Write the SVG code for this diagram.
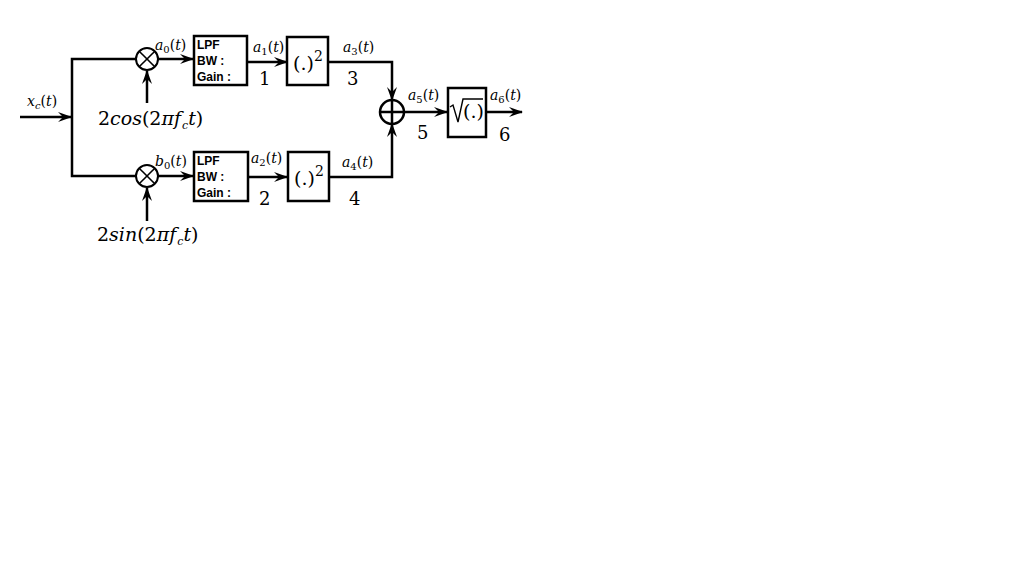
<svg xmlns="http://www.w3.org/2000/svg" width="1024" height="577" viewBox="0 0 1024 577">
<style>
.ln{fill:none;stroke:#000;stroke-width:2.5}
.bx{fill:#fff;stroke:#000;stroke-width:2.5}
.th{fill:none;stroke:#000;stroke-width:1.6}
.m{font-family:"DejaVu Serif","Liberation Serif",serif;font-style:italic;font-size:14px;fill:#000}
.big{font-family:"DejaVu Serif","Liberation Serif",serif;font-size:19px;fill:#000}
.n{font-family:"DejaVu Serif","Liberation Serif",serif;font-size:18px;fill:#000}
.lp{font-family:"Liberation Sans",Arial,sans-serif;font-weight:bold;font-size:12px;fill:#000}
.up{font-style:normal}
</style>
<defs>
<marker id="ar" viewBox="0 0 14 10" refX="13" refY="5" markerWidth="14" markerHeight="10" markerUnits="userSpaceOnUse" orient="auto">
<path d="M0,0 L14,5 L0,10 L5,5 z" fill="#000"/>
</marker>
</defs>
<rect width="1024" height="577" fill="#fff"/>
<g id="connectors">
<line class="ln" x1="20" y1="117" x2="71" y2="117" marker-end="url(#ar)"/>
<polyline class="ln" points="136,59 72,59 72,176 136,176"/>
<line class="ln" x1="158" y1="59" x2="193" y2="59" marker-end="url(#ar)"/>
<line class="ln" x1="158" y1="176" x2="193" y2="176" marker-end="url(#ar)"/>
<line class="ln" x1="147" y1="103" x2="147" y2="71" marker-end="url(#ar)"/>
<line class="ln" x1="147" y1="221" x2="147" y2="188" marker-end="url(#ar)"/>
<line class="ln" x1="247" y1="62" x2="287" y2="62" marker-end="url(#ar)"/>
<line class="ln" x1="248" y1="177" x2="287" y2="177" marker-end="url(#ar)"/>
<polyline class="ln" points="328,62 392,62 392,100" marker-end="url(#ar)"/>
<polyline class="ln" points="329,177 392,177 392,124" marker-end="url(#ar)"/>
<line class="ln" x1="404" y1="112" x2="447" y2="112" marker-end="url(#ar)"/>
<line class="ln" x1="486" y1="112" x2="522" y2="112" marker-end="url(#ar)"/>
</g>
<g id="mult1">
<circle cx="147" cy="59" r="11" fill="#fff" stroke="#000" stroke-width="2"/>
<line class="th" x1="139.2" y1="51.2" x2="154.8" y2="66.8"/>
<line class="th" x1="154.8" y1="51.2" x2="139.2" y2="66.8"/>
</g>
<g id="mult2">
<circle cx="147" cy="176" r="11" fill="#fff" stroke="#000" stroke-width="2"/>
<line class="th" x1="139.2" y1="168.2" x2="154.8" y2="183.8"/>
<line class="th" x1="154.8" y1="168.2" x2="139.2" y2="183.8"/>
</g>
<g id="lpf1">
<rect class="bx" x="194" y="36" width="53" height="49"/>
<text class="lp" x="197" y="49">LPF</text>
<text class="lp" x="197" y="65">BW :</text>
<text class="lp" x="197" y="81">Gain :</text>
</g>
<g id="lpf2">
<rect class="bx" x="194" y="152" width="54" height="49"/>
<text class="lp" x="197" y="165">LPF</text>
<text class="lp" x="197" y="181">BW :</text>
<text class="lp" x="197" y="197">Gain :</text>
</g>
<g id="sq1">
<rect class="bx" x="287" y="37" width="41" height="48"/>
<text class="big" x="293" y="70" font-size="20">(.)<tspan font-size="14" dy="-9">2</tspan></text>
</g>
<g id="sq2">
<rect class="bx" x="288" y="152" width="41" height="49"/>
<text class="big" x="294" y="185" font-size="20">(.)<tspan font-size="14" dy="-9">2</tspan></text>
</g>
<g id="adder">
<circle class="bx" cx="392" cy="112" r="12"/>
<line class="ln" x1="380" y1="112" x2="404" y2="112"/>
<line class="ln" x1="392" y1="100" x2="392" y2="124"/>
</g>
<g id="sqrt">
<rect class="bx" x="448" y="88" width="38" height="49"/>
<polyline fill="none" stroke="#000" stroke-width="1.4" points="450,107 453,105 458,122 463,99 483,99"/>
<text class="big" x="463" y="118" font-size="15">(.)</text>
</g>
<g id="labels">
<text class="m" x="27" y="106">x<tspan font-size="10" dy="3">c</tspan><tspan class="up" dy="-3">(</tspan>t<tspan class="up">)</tspan></text>
<text class="m" x="155" y="50">a<tspan class="up" font-size="10" dy="3">0</tspan><tspan class="up" dy="-3">(</tspan>t<tspan class="up">)</tspan></text>
<text class="m" x="155" y="166">b<tspan class="up" font-size="10" dy="3">0</tspan><tspan class="up" dy="-3">(</tspan>t<tspan class="up">)</tspan></text>
<text class="m" x="253" y="52">a<tspan class="up" font-size="10" dy="3">1</tspan><tspan class="up" dy="-3">(</tspan>t<tspan class="up">)</tspan></text>
<text class="m" x="251" y="163">a<tspan class="up" font-size="10" dy="3">2</tspan><tspan class="up" dy="-3">(</tspan>t<tspan class="up">)</tspan></text>
<text class="m" x="343" y="52">a<tspan class="up" font-size="10" dy="3">3</tspan><tspan class="up" dy="-3">(</tspan>t<tspan class="up">)</tspan></text>
<text class="m" x="342" y="167">a<tspan class="up" font-size="10" dy="3">4</tspan><tspan class="up" dy="-3">(</tspan>t<tspan class="up">)</tspan></text>
<text class="m" x="408" y="100">a<tspan class="up" font-size="10" dy="3">5</tspan><tspan class="up" dy="-3">(</tspan>t<tspan class="up">)</tspan></text>
<text class="m" x="490" y="100">a<tspan class="up" font-size="10" dy="3">6</tspan><tspan class="up" dy="-3">(</tspan>t<tspan class="up">)</tspan></text>
<text class="n" x="259" y="85">1</text>
<text class="n" x="259" y="205">2</text>
<text class="n" x="347" y="85">3</text>
<text class="n" x="349" y="205">4</text>
<text class="n" x="417" y="139">5</text>
<text class="n" x="499" y="141">6</text>
<text class="big" x="98" y="125" font-size="17">2<tspan font-style="italic">cos</tspan>(2<tspan font-style="italic">πf</tspan><tspan font-style="italic" font-size="11" dy="4" dx="1">c</tspan><tspan font-style="italic" dy="-4">t</tspan>)</text>
<text class="big" x="97" y="241" font-size="17">2<tspan font-style="italic">sin</tspan>(2<tspan font-style="italic">πf</tspan><tspan font-style="italic" font-size="11" dy="4" dx="1">c</tspan><tspan font-style="italic" dy="-4">t</tspan>)</text>
</g>
</svg>
